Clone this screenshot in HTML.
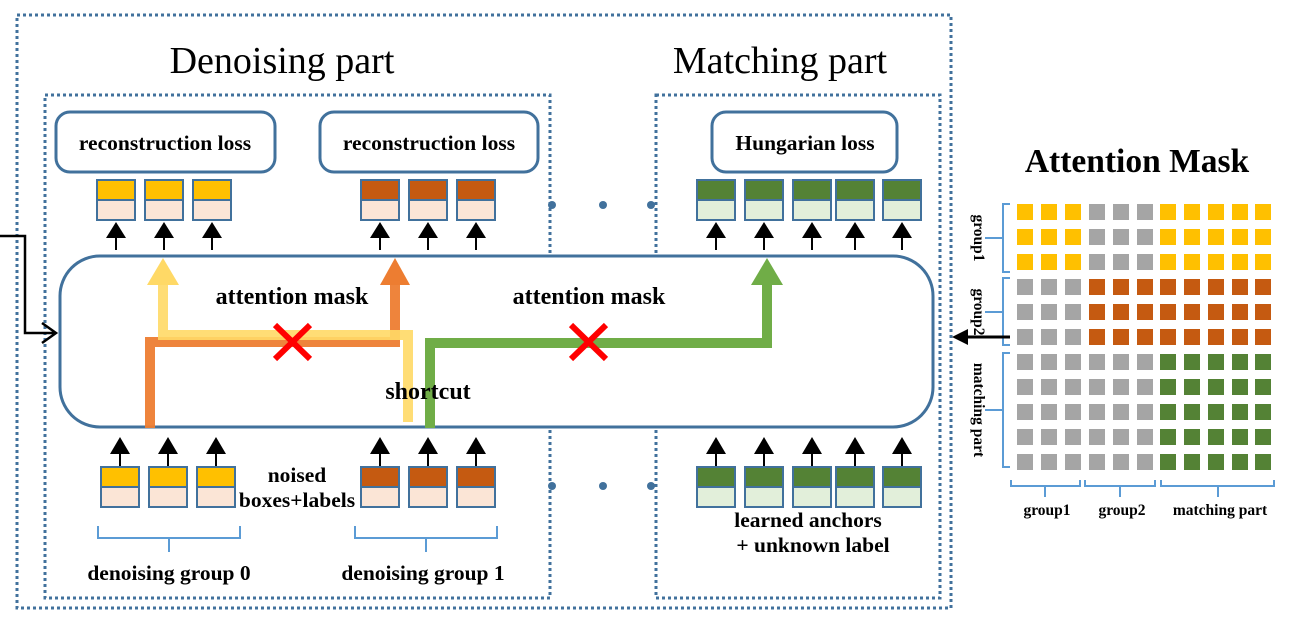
<!DOCTYPE html>
<html><head><meta charset="utf-8"><style>
html,body{margin:0;padding:0;background:#fff}
svg{display:block}
text{font-family:"Liberation Serif",serif;fill:#000}
.b{font-weight:bold}
</style></head><body>
<svg width="1303" height="632" viewBox="0 0 1303 632" xmlns="http://www.w3.org/2000/svg">
<g fill="none" stroke="#41719c" stroke-width="3" stroke-dasharray="3,3">
<rect x="17" y="15" width="934" height="593"/>
<rect x="45" y="95" width="505" height="503"/>
<rect x="656" y="95" width="284" height="503"/>
</g>
<text x="282" y="73" font-size="38" text-anchor="middle">Denoising part</text>
<text x="780" y="73" font-size="38" text-anchor="middle">Matching part</text>
<g fill="#fff" stroke="#41719c" stroke-width="3">
<rect x="56" y="112" width="219" height="60" rx="14"/>
<rect x="320" y="112" width="218" height="60" rx="14"/>
<rect x="712" y="112" width="185" height="60" rx="14"/>
<rect x="60" y="256" width="873" height="171" rx="40"/>
</g>
<g font-size="21.5" text-anchor="middle">
<text x="165" y="150" class="b">reconstruction loss</text>
<text x="429" y="150" class="b">reconstruction loss</text>
<text x="805" y="150" class="b">Hungarian loss</text>
</g>
<g stroke="#41719c" stroke-width="2">
<g fill="#ffc000"><rect x="97" y="180" width="38" height="20"/><rect x="145" y="180" width="38" height="20"/><rect x="193" y="180" width="38" height="20"/>
<rect x="101" y="467" width="38" height="20"/><rect x="149" y="467" width="38" height="20"/><rect x="197" y="467" width="38" height="20"/></g>
<g fill="#c55a11"><rect x="361" y="180" width="38" height="20"/><rect x="409" y="180" width="38" height="20"/><rect x="457" y="180" width="38" height="20"/>
<rect x="361" y="467" width="38" height="20"/><rect x="409" y="467" width="38" height="20"/><rect x="457" y="467" width="38" height="20"/></g>
<g fill="#fbe5d6"><rect x="97" y="200" width="38" height="20"/><rect x="145" y="200" width="38" height="20"/><rect x="193" y="200" width="38" height="20"/>
<rect x="101" y="487" width="38" height="20"/><rect x="149" y="487" width="38" height="20"/><rect x="197" y="487" width="38" height="20"/>
<rect x="361" y="200" width="38" height="20"/><rect x="409" y="200" width="38" height="20"/><rect x="457" y="200" width="38" height="20"/>
<rect x="361" y="487" width="38" height="20"/><rect x="409" y="487" width="38" height="20"/><rect x="457" y="487" width="38" height="20"/></g>
<g fill="#548235"><rect x="697" y="180" width="38" height="20"/><rect x="745" y="180" width="38" height="20"/><rect x="793" y="180" width="38" height="20"/><rect x="836" y="180" width="38" height="20"/><rect x="883" y="180" width="38" height="20"/>
<rect x="697" y="467" width="38" height="20"/><rect x="745" y="467" width="38" height="20"/><rect x="793" y="467" width="38" height="20"/><rect x="836" y="467" width="38" height="20"/><rect x="883" y="467" width="38" height="20"/></g>
<g fill="#e2efda"><rect x="697" y="200" width="38" height="20"/><rect x="745" y="200" width="38" height="20"/><rect x="793" y="200" width="38" height="20"/><rect x="836" y="200" width="38" height="20"/><rect x="883" y="200" width="38" height="20"/>
<rect x="697" y="487" width="38" height="20"/><rect x="745" y="487" width="38" height="20"/><rect x="793" y="487" width="38" height="20"/><rect x="836" y="487" width="38" height="20"/><rect x="883" y="487" width="38" height="20"/></g>
</g>
<g fill="#000" stroke="#000" stroke-width="2">
<path d="M116 250V236M164 250V236M212 250V236M380 250V236M428 250V236M476 250V236M716 250V236M764 250V236M812 250V236M855 250V236M902 250V236"/>
<path stroke="none" d="M106 238L116 222L126 238ZM154 238L164 222L174 238ZM202 238L212 222L222 238ZM370 238L380 222L390 238ZM418 238L428 222L438 238ZM466 238L476 222L486 238ZM706 238L716 222L726 238ZM754 238L764 222L774 238ZM802 238L812 222L822 238ZM845 238L855 222L865 238ZM892 238L902 222L912 238Z"/>
<path d="M120 466V452M168 466V452M216 466V452M380 466V452M428 466V452M476 466V452M716 466V452M764 466V452M812 466V452M855 466V452M902 466V452"/>
<path stroke="none" d="M110 454L120 437L130 454ZM158 454L168 437L178 454ZM206 454L216 437L226 454ZM370 454L380 437L390 454ZM418 454L428 437L438 454ZM466 454L476 437L486 454ZM706 454L716 437L726 454ZM754 454L764 437L774 454ZM802 454L812 437L822 454ZM845 454L855 437L865 454ZM892 454L902 437L912 454Z"/>
</g>
<g fill="#41719c"><circle cx="552" cy="205" r="4"/><circle cx="603" cy="205" r="4"/><circle cx="651" cy="205" r="4"/>
<circle cx="552" cy="486" r="4"/><circle cx="603" cy="486" r="4"/><circle cx="651" cy="486" r="4"/></g>
<g fill="none" stroke-width="10" stroke-linejoin="miter">
<path d="M150 428V342H395V285" stroke="#ed7d31" opacity="0.95"/>
<path d="M408 422V335H163V285" stroke="#ffd966" opacity="0.9"/>
<path d="M430 428V343H767V285" stroke="#70ad47"/>
</g>
<path d="M395 258L380 285H410Z" fill="#ed7d31"/>
<path d="M163 258L147 285H179Z" fill="#ffd966"/>
<path d="M767 258L751 285H783Z" fill="#70ad47"/>
<g stroke="#f00" stroke-width="6"><path d="M275 325L310 359M310 325L275 359M571 325L606 359M606 325L571 359"/></g>
<g text-anchor="middle">
<text x="292" y="304" class="b" font-size="24">attention mask</text>
<text x="589" y="304" class="b" font-size="24">attention mask</text>
<text x="428" y="399" class="b" font-size="24">shortcut</text>
<text x="297" y="482" class="b" font-size="21.5">noised</text>
<text x="297" y="507" class="b" font-size="21.5">boxes+labels</text>
<text x="169" y="580" class="b" font-size="21.5">denoising group 0</text>
<text x="423" y="580" class="b" font-size="21.5">denoising group 1</text>
<text x="808" y="527" class="b" font-size="21.5">learned anchors</text>
<text x="813" y="552" class="b" font-size="21.5">+ unknown label</text>
</g>
<g fill="none" stroke="#5b9bd5" stroke-width="2">
<path d="M98 526V538H240V526M169 538V552"/>
<path d="M355 526V538H497V526M426 538V552"/>
</g>
<g fill="none" stroke="#000" stroke-width="2.5"><path d="M0 236H25V333H55M42 323L56 333L42 343"/></g>
<text x="1137" y="172" class="b" font-size="33.5" text-anchor="middle">Attention Mask</text>
<g fill="none" stroke="#5b9bd5" stroke-width="2">
<path d="M1010 204H1003V272H1010M1003 238H985"/>
<path d="M1010 278H1003V345H1010M1003 312H985"/>
<path d="M1010 353H1003V467H1010M1003 410H985"/>
<path d="M1011 480V486H1080V480M1045 486V497"/>
<path d="M1085 480V486H1155V480M1120 486V497"/>
<path d="M1161 480V486H1274V480M1218 486V497"/>
</g>
<g font-size="15.5" text-anchor="middle">
<text transform="translate(974,238) rotate(90)" class="b">group1</text>
<text transform="translate(974,312) rotate(90)" class="b">group2</text>
<text transform="translate(974,410) rotate(90)" class="b">matching part</text>
<text x="1047" y="515" class="b">group1</text>
<text x="1122" y="515" class="b">group2</text>
<text x="1220" y="515" class="b">matching part</text>
</g>
<g>
<g fill="#ffc000">
<rect x="1017" y="204" width="16" height="16"/><rect x="1041" y="204" width="16" height="16"/><rect x="1065" y="204" width="16" height="16"/>
<rect x="1017" y="229" width="16" height="16"/><rect x="1041" y="229" width="16" height="16"/><rect x="1065" y="229" width="16" height="16"/>
<rect x="1017" y="254" width="16" height="16"/><rect x="1041" y="254" width="16" height="16"/><rect x="1065" y="254" width="16" height="16"/>
<rect x="1160" y="204" width="16" height="16"/><rect x="1184" y="204" width="16" height="16"/><rect x="1208" y="204" width="16" height="16"/><rect x="1232" y="204" width="16" height="16"/><rect x="1255" y="204" width="16" height="16"/>
<rect x="1160" y="229" width="16" height="16"/><rect x="1184" y="229" width="16" height="16"/><rect x="1208" y="229" width="16" height="16"/><rect x="1232" y="229" width="16" height="16"/><rect x="1255" y="229" width="16" height="16"/>
<rect x="1160" y="254" width="16" height="16"/><rect x="1184" y="254" width="16" height="16"/><rect x="1208" y="254" width="16" height="16"/><rect x="1232" y="254" width="16" height="16"/><rect x="1255" y="254" width="16" height="16"/>
</g>
<g fill="#a5a5a5">
<rect x="1089" y="204" width="16" height="16"/><rect x="1113" y="204" width="16" height="16"/><rect x="1137" y="204" width="16" height="16"/>
<rect x="1089" y="229" width="16" height="16"/><rect x="1113" y="229" width="16" height="16"/><rect x="1137" y="229" width="16" height="16"/>
<rect x="1089" y="254" width="16" height="16"/><rect x="1113" y="254" width="16" height="16"/><rect x="1137" y="254" width="16" height="16"/>
<rect x="1017" y="279" width="16" height="16"/><rect x="1041" y="279" width="16" height="16"/><rect x="1065" y="279" width="16" height="16"/>
<rect x="1017" y="304" width="16" height="16"/><rect x="1041" y="304" width="16" height="16"/><rect x="1065" y="304" width="16" height="16"/>
<rect x="1017" y="329" width="16" height="16"/><rect x="1041" y="329" width="16" height="16"/><rect x="1065" y="329" width="16" height="16"/>
<rect x="1017" y="354" width="16" height="16"/><rect x="1041" y="354" width="16" height="16"/><rect x="1065" y="354" width="16" height="16"/><rect x="1089" y="354" width="16" height="16"/><rect x="1113" y="354" width="16" height="16"/><rect x="1137" y="354" width="16" height="16"/>
<rect x="1017" y="379" width="16" height="16"/><rect x="1041" y="379" width="16" height="16"/><rect x="1065" y="379" width="16" height="16"/><rect x="1089" y="379" width="16" height="16"/><rect x="1113" y="379" width="16" height="16"/><rect x="1137" y="379" width="16" height="16"/>
<rect x="1017" y="404" width="16" height="16"/><rect x="1041" y="404" width="16" height="16"/><rect x="1065" y="404" width="16" height="16"/><rect x="1089" y="404" width="16" height="16"/><rect x="1113" y="404" width="16" height="16"/><rect x="1137" y="404" width="16" height="16"/>
<rect x="1017" y="429" width="16" height="16"/><rect x="1041" y="429" width="16" height="16"/><rect x="1065" y="429" width="16" height="16"/><rect x="1089" y="429" width="16" height="16"/><rect x="1113" y="429" width="16" height="16"/><rect x="1137" y="429" width="16" height="16"/>
<rect x="1017" y="454" width="16" height="16"/><rect x="1041" y="454" width="16" height="16"/><rect x="1065" y="454" width="16" height="16"/><rect x="1089" y="454" width="16" height="16"/><rect x="1113" y="454" width="16" height="16"/><rect x="1137" y="454" width="16" height="16"/>
</g>
<g fill="#c55a11">
<rect x="1089" y="279" width="16" height="16"/><rect x="1113" y="279" width="16" height="16"/><rect x="1137" y="279" width="16" height="16"/><rect x="1160" y="279" width="16" height="16"/><rect x="1184" y="279" width="16" height="16"/><rect x="1208" y="279" width="16" height="16"/><rect x="1232" y="279" width="16" height="16"/><rect x="1255" y="279" width="16" height="16"/>
<rect x="1089" y="304" width="16" height="16"/><rect x="1113" y="304" width="16" height="16"/><rect x="1137" y="304" width="16" height="16"/><rect x="1160" y="304" width="16" height="16"/><rect x="1184" y="304" width="16" height="16"/><rect x="1208" y="304" width="16" height="16"/><rect x="1232" y="304" width="16" height="16"/><rect x="1255" y="304" width="16" height="16"/>
<rect x="1089" y="329" width="16" height="16"/><rect x="1113" y="329" width="16" height="16"/><rect x="1137" y="329" width="16" height="16"/><rect x="1160" y="329" width="16" height="16"/><rect x="1184" y="329" width="16" height="16"/><rect x="1208" y="329" width="16" height="16"/><rect x="1232" y="329" width="16" height="16"/><rect x="1255" y="329" width="16" height="16"/>
</g>
<g fill="#548235">
<rect x="1160" y="354" width="16" height="16"/><rect x="1184" y="354" width="16" height="16"/><rect x="1208" y="354" width="16" height="16"/><rect x="1232" y="354" width="16" height="16"/><rect x="1255" y="354" width="16" height="16"/>
<rect x="1160" y="379" width="16" height="16"/><rect x="1184" y="379" width="16" height="16"/><rect x="1208" y="379" width="16" height="16"/><rect x="1232" y="379" width="16" height="16"/><rect x="1255" y="379" width="16" height="16"/>
<rect x="1160" y="404" width="16" height="16"/><rect x="1184" y="404" width="16" height="16"/><rect x="1208" y="404" width="16" height="16"/><rect x="1232" y="404" width="16" height="16"/><rect x="1255" y="404" width="16" height="16"/>
<rect x="1160" y="429" width="16" height="16"/><rect x="1184" y="429" width="16" height="16"/><rect x="1208" y="429" width="16" height="16"/><rect x="1232" y="429" width="16" height="16"/><rect x="1255" y="429" width="16" height="16"/>
<rect x="1160" y="454" width="16" height="16"/><rect x="1184" y="454" width="16" height="16"/><rect x="1208" y="454" width="16" height="16"/><rect x="1232" y="454" width="16" height="16"/><rect x="1255" y="454" width="16" height="16"/>
</g>
</g>
<path d="M1010 337H965" stroke="#000" stroke-width="3"/>
<path d="M952 337L968 329V345Z" fill="#000"/>
</svg>
</body></html>
